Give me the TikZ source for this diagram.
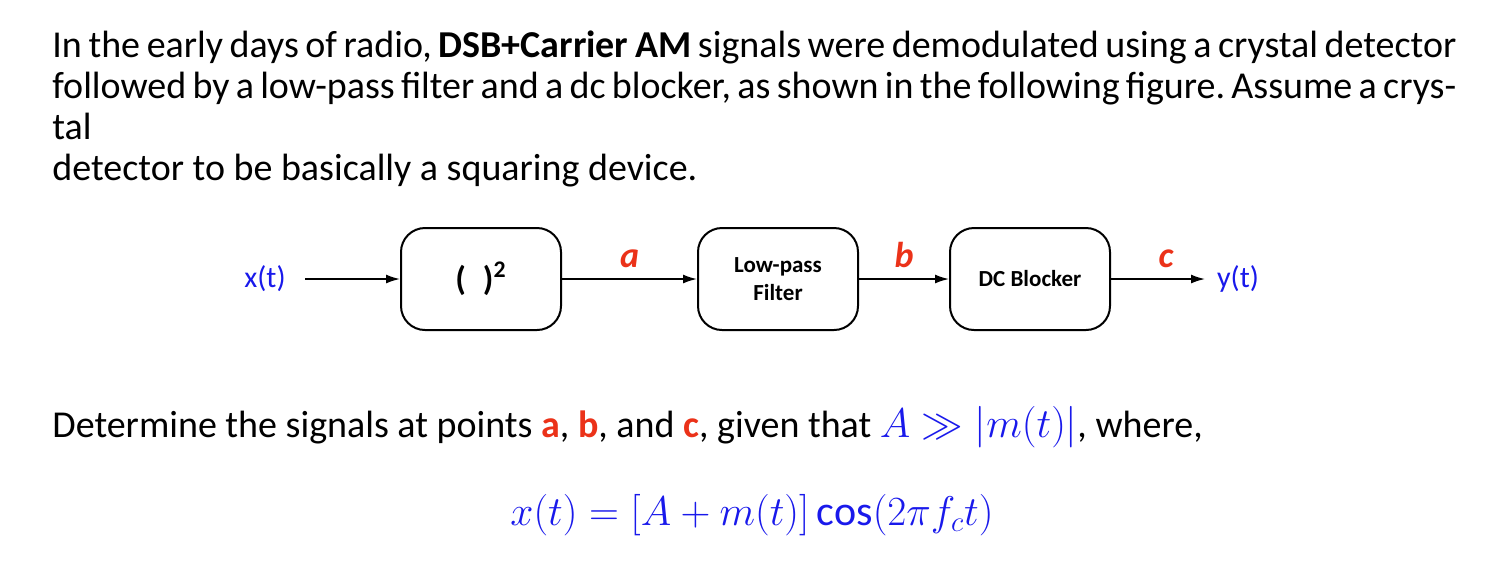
\documentclass[tikz,border=0pt]{standalone}
\usepackage{amsmath}
\usepackage{fontspec}
\setmainfont{Carlito}
\usetikzlibrary{arrows.meta}
\definecolor{sigblue}{RGB}{25,25,235}
\definecolor{sigred}{RGB}{235,50,25}
\frenchspacing
\begin{document}
\begin{tikzpicture}[x=0.5pt,y=-0.5pt,
  blockbox/.style={draw,line width=1pt,rounded corners=12pt,minimum width=80pt,minimum height=51pt,font=\fontsize{11.5}{14}\selectfont\bfseries,align=center},
  sig/.style={-{Latex[length=7pt,width=4.5pt]},line width=0.8pt},
  lab/.style={font=\fontsize{18}{18}\selectfont\bfseries\itshape,text=sigred},
  io/.style={font=\fontsize{15}{16}\selectfont,text=sigblue}]
\useasboundingbox (0,0) rectangle (1504,564);
\node[anchor=north west,text width=702pt,align=justify,inner sep=0pt,font=\fontsize{19}{20.5}\selectfont] (para) at (52,30)
{In the early days of radio, \textbf{DSB+Carrier AM} signals were demodulated using a crystal detector\linebreak followed by a low-pass filter and a dc blocker, as shown in the following figure. Assume a crystal\linebreak detector to be basically a squaring device.};
\node[io] (x) at (265,279) {x(t)};
\node[blockbox] (sq) at (481,279) {\fontsize{17}{17}\selectfont(\,\,\,)$^{\mathbf 2}$};
\node[blockbox] (lp) at (778,279) {Low-pass\\Filter};
\node[blockbox] (dc) at (1030,279) {DC Blocker};
\node[io] (y) at (1238,279) {y(t)};
\coordinate (xs) at (305,279);
\coordinate (ye) at (1205,279);
\draw[sig] (xs) -- (sq);
\draw[sig] (sq) -- node[lab,above=2pt]{a} (lp);
\draw[sig] (lp) -- node[lab,above=2pt]{b} (dc);
\draw[sig] (dc) -- node[lab,above=2pt,xshift=4pt]{c} (ye);
\node[anchor=base west,inner sep=0pt,font=\fontsize{19}{20}\selectfont] (q) at (52,437)
{Determine the signals at points \textbf{\color{sigred}a}, \textbf{\color{sigred}b}, and \textbf{\color{sigred}c}, given that {\fontsize{20}{20}\selectfont\color{sigblue}$A\gg|m(t)|$}, where,};
\node[anchor=base,inner sep=0pt,font=\fontsize{21}{22}\selectfont,text=sigblue] (eq) at (752,525)
{$x(t)=[A+m(t)]\,\mathrm{cos}(2\pi f_c t)$};
\end{tikzpicture}
\end{document}
